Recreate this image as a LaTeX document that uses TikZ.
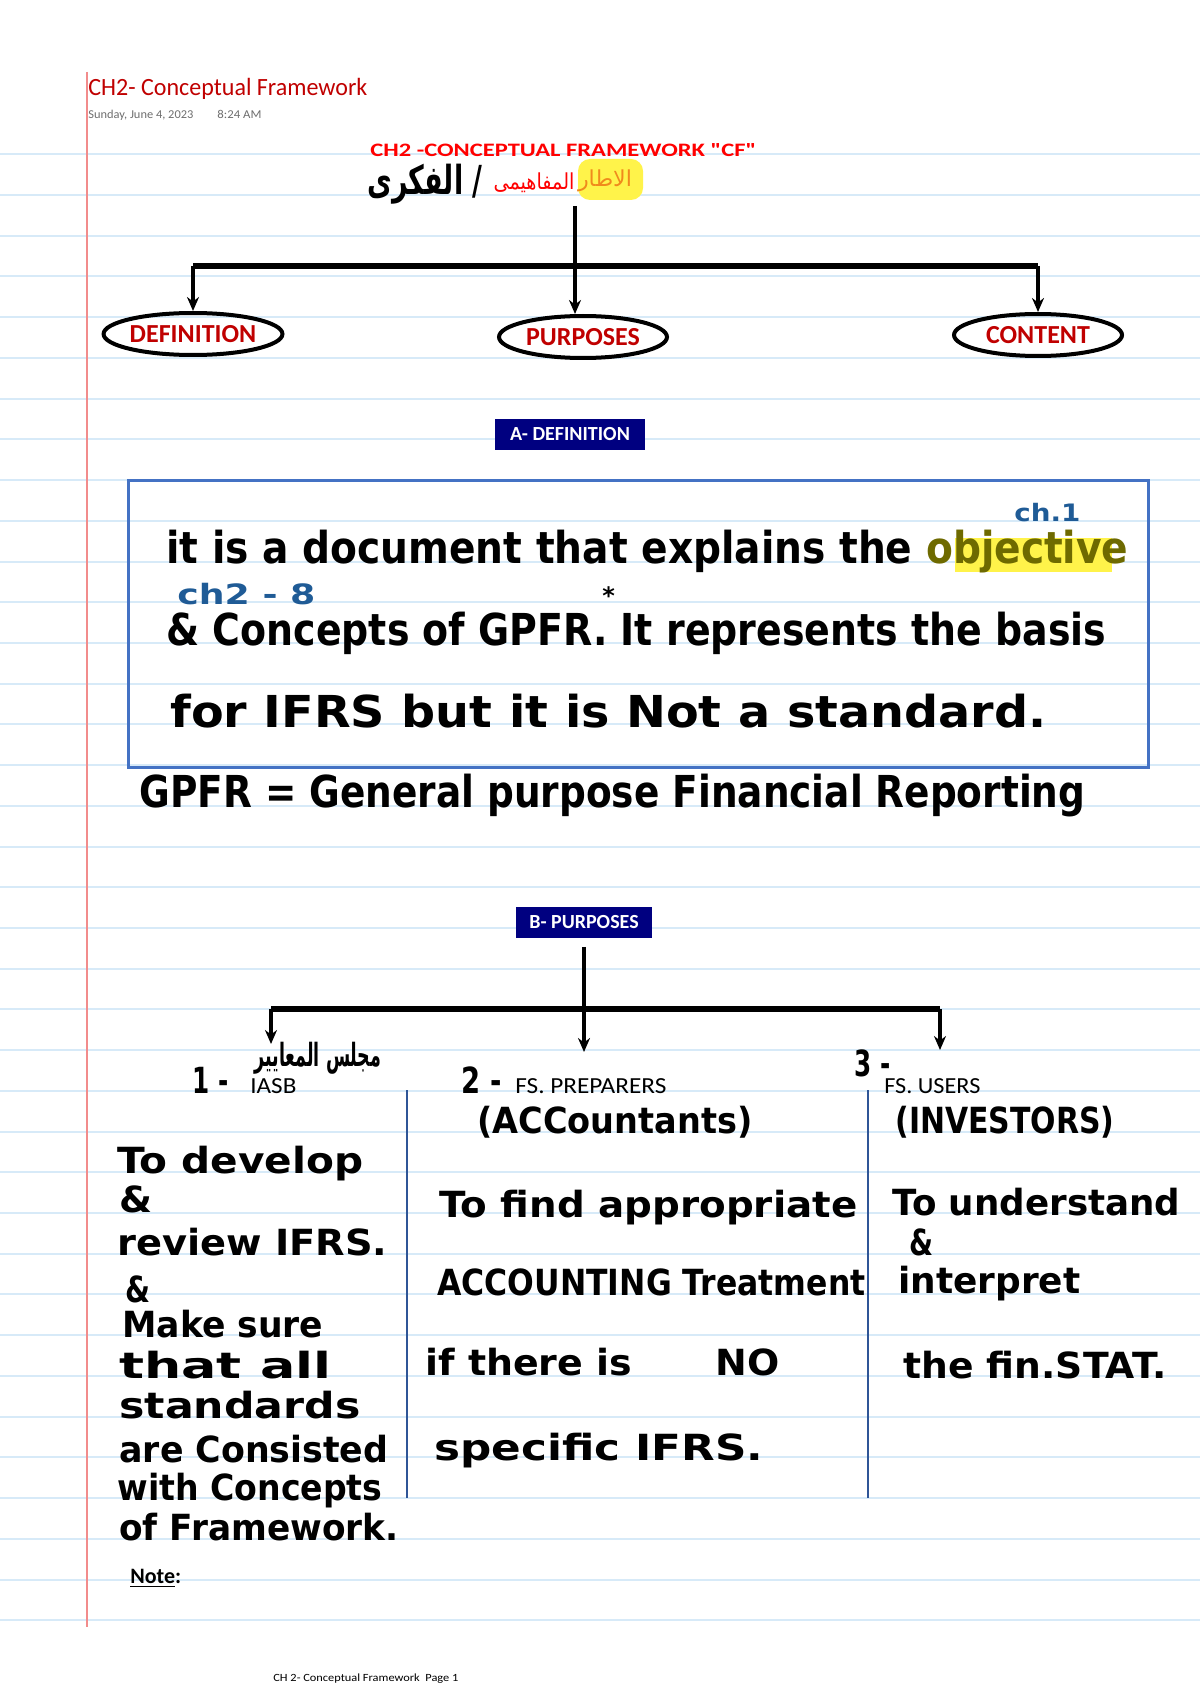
\documentclass[tikz,border=0pt]{standalone}
\usepackage{fontspec}
\setmainfont{Carlito}
\newfontfamily\straightfont{Carlito}[Ligatures=TeXOff]
\newfontfamily\hand{DejaVu Sans}
\newfontfamily\arabicfont[Script=Arabic]{DejaVu Sans}
\TeXXeTstate=1
\usepackage{graphicx}
\usetikzlibrary{arrows.meta,positioning,calc,shapes.geometric}
\definecolor{ruleblue}{HTML}{D7EAF8}
\definecolor{marginred}{HTML}{F28C8C}
\definecolor{titlered}{HTML}{C00000}
\definecolor{brightred}{HTML}{FF0000}
\definecolor{navybox}{HTML}{000080}
\definecolor{boxblue}{HTML}{4472C4}
\definecolor{colblue}{HTML}{2F5597}
\definecolor{inkblue}{HTML}{1F5B96}
\definecolor{hlyellow}{HTML}{FFF34A}
\definecolor{hlolive}{HTML}{6E6A00}
\definecolor{arorange}{HTML}{F08A1C}
\definecolor{dategray}{HTML}{6E6E6E}
\newcommand{\squeeze}[2]{\resizebox{#1}{\height}{#2}}

\begin{document}
\begin{tikzpicture}[x=0.5pt,y=-0.5pt,
  hw/.style={anchor=base west,inner sep=0pt,font=\hand\bfseries\fontsize{18}{20}\selectfont},
  printed/.style={anchor=base west,inner sep=0pt},
  ellbox/.style={ellipse,draw=black,line width=2pt,minimum width=84pt,minimum height=21pt,
    inner sep=0pt,text=titlered,font=\bfseries\fontsize{13}{15}\selectfont},
  secbox/.style={fill=navybox,text=white,inner sep=0pt,minimum height=15.5pt,
    font=\bfseries\fontsize{10}{12}\selectfont},
  stemline/.style={line width=1.8pt,-{Stealth[length=7pt,width=6pt]}},
  barline/.style={line width=2.6pt}]
\useasboundingbox (0,0) rectangle (1200,1701);
\fill[white] (0,0) rectangle (1200,1701);
% page lines
\foreach \k in {0,...,36}{
  \draw[ruleblue,line width=1pt] (0,{154.3+40.72*\k}) -- (1200,{154.3+40.72*\k});
}
\draw[marginred,line width=0.8pt] (87,72) -- (87,1627);

% header
\node[printed,text=titlered,font=\fontsize{12.4}{14}\selectfont] (pagetitle) at (88,96)
  {\squeeze{139.5pt}{CH2- Conceptual Framework}};
\node[printed,text=dategray,font=\fontsize{6}{7}\selectfont] (pagedate) at (88,119)
  {\squeeze{52.5pt}{Sunday, June 4, 2023}};
\node[printed,text=dategray,font=\fontsize{6}{7}\selectfont] (pagetime) at (217,119)
  {\squeeze{22pt}{8:24 AM}};

% title and arabic
\node[printed,text=brightred,font=\straightfont\bfseries\fontsize{9.5}{11}\selectfont] (cftitle) at (370,157)
  {\squeeze{193pt}{CH2 -CONCEPTUAL FRAMEWORK "CF"}};
\fill[hlyellow,rounded corners=6pt] (578,159) rectangle (643,200);
\node[inner sep=0pt,text=arorange,font=\arabicfont\fontsize{11}{13}\selectfont] (arframe) at (605,181)
  {\squeeze{27pt}{\beginR الاطار\endR}};
\node[inner sep=0pt,text=brightred,font=\arabicfont\fontsize{11}{13}\selectfont] (arconcept) at (534,183)
  {\squeeze{40.5pt}{\beginR المفاهيمى\endR}};
\node[inner sep=0pt,font=\arabicfont\bfseries\fontsize{20}{22}\selectfont] (arhand) at (425,184)
  {\squeeze{57.5pt}{\beginR / الفكرى\endR}};

% first tree
\coordinate (cfstem) at (575,206);
\coordinate (topbar) at (575,266);
\node[ellbox] (defn) at (193,334) {DEFINITION};
\node[ellbox] (purp) at (583,337) {PURPOSES};
\node[ellbox] (cont) at (1038,335) {CONTENT};
\draw[stemline] (cfstem) -- (cfstem |- purp.north);
\draw[barline] (defn.north |- topbar) -- (cont.north |- topbar);
\draw[stemline] (defn.north |- topbar) -- (defn.north);
\draw[stemline] (cont.north |- topbar) -- (cont.north);

% A - definition
\node[secbox,minimum width=75pt] (secA) at (570,434) {A- DEFINITION};
\draw[boxblue,line width=1.5pt] (128,480) rectangle (1148,767);
\fill[hlyellow] (955,538) rectangle (1112,572);
\node[hw,text=inkblue,font=\hand\bfseries\fontsize{12}{14}\selectfont] (chone) at (1014,521)
  {\squeeze{33pt}{ch.1}};
\node[hw,font=\hand\bfseries\fontsize{22}{24}\selectfont] (def1) at (166,563)
  {\squeeze{481pt}{it is a document that explains the \textcolor{hlolive}{objective}}};
\node[hw,text=inkblue,font=\hand\bfseries\fontsize{14}{16}\selectfont] (chtwo) at (177,604)
  {\squeeze{69pt}{ch2 - 8}};
\node[hw,font=\hand\bfseries\fontsize{12}{14}\selectfont] (star) at (602,604) {*};
\node[hw,font=\hand\bfseries\fontsize{22}{24}\selectfont] (def2) at (166,645)
  {\squeeze{470pt}{\& Concepts of GPFR. It represents the basis}};
\node[hw,font=\hand\bfseries\fontsize{22}{24}\selectfont] (def3) at (170,727)
  {\squeeze{438pt}{for IFRS but it is Not a standard.}};
\node[hw,font=\hand\bfseries\fontsize{22}{24}\selectfont] (gpfr) at (139,807)
  {\squeeze{473pt}{GPFR = General purpose Financial Reporting}};

% B - purposes
\node[secbox,minimum width=68pt] (secB) at (584,922) {B- PURPOSES};
\coordinate (midbar) at (584,1009);
\coordinate (tipA) at (271,1044);
\coordinate (tipB) at (584,1052);
\coordinate (tipC) at (940,1050);
\draw[stemline,shorten <=4.5pt] (secB.south) -- (tipB);
\draw[barline] (tipA |- midbar) -- (tipC |- midbar);
\draw[stemline] (tipA |- midbar) -- (tipA);
\draw[stemline] (tipC |- midbar) -- (tipC);

\node[inner sep=0pt,font=\arabicfont\bfseries\fontsize{16}{18}\selectfont] (iasbar) at (318,1058)
  {\squeeze{63.5pt}{\beginR مجلس المعايير\endR}};
\node[hw] (numA) at (192,1093) {\squeeze{18pt}{1 -}};
\node[hw] (numB) at (461,1093) {\squeeze{20pt}{2 -}};
\node[hw] (numC) at (854,1076) {\squeeze{18pt}{3 -}};
\node[printed,font=\fontsize{11.5}{13}\selectfont] (iasb) at (250,1093) {\squeeze{23pt}{IASB}};
\node[printed,font=\fontsize{11.5}{13}\selectfont] (prep) at (515,1093) {\squeeze{75.5pt}{FS. PREPARERS}};
\node[printed,font=\fontsize{11.5}{13}\selectfont] (users) at (884,1093) {\squeeze{48pt}{FS. USERS}};
\node[hw] (acct) at (477,1133) {\squeeze{137.5pt}{(ACCountants)}};
\node[hw] (invest) at (895,1133) {\squeeze{109.5pt}{(INVESTORS)}};

\draw[colblue,line width=0.6pt] (407,1090) -- (407,1498);
\draw[colblue,line width=0.6pt] (868,1090) -- (868,1498);

% columns
\foreach \x/\y/\w/\t [count=\i] in {117/1173/123/To develop, 119/1212/16.5/\&,
    117/1255/135/review IFRS., 125/1302/12.5/\&, 122/1337/100.5/Make sure,
    119/1378/106/that all, 119/1418/120.5/standards, 119/1462/134.5/are Consisted,
    117/1500/132.5/with Concepts, 119/1540/139.5/of Framework.}{
  \node[hw] (colA-\i) at (\x,\y) {\squeeze{\w pt}{\t}};
}
\foreach \x/\y/\w/\t [count=\i] in {439/1217/209/To find appropriate,
    437/1295/214/ACCOUNTING Treatment, 425/1375/177/if there is \hspace{1.5em} NO,
    434/1460/164.5/specific IFRS.}{
  \node[hw] (colB-\i) at (\x,\y) {\squeeze{\w pt}{\t}};
}
\foreach \x/\y/\w/\t [count=\i] in {892/1215/144/To understand, 909/1255/12/\&,
    898/1293/91/interpret, 903/1378/131.5/the fin.STAT.}{
  \node[hw] (colC-\i) at (\x,\y) {\squeeze{\w pt}{\t}};
}

\node[printed,font=\bfseries\fontsize{11}{13}\selectfont] (note) at (130,1583) {\underline{Note}:};
\node[printed,font=\fontsize{5.5}{7}\selectfont] (footer) at (273,1681)
  {\squeeze{92.5pt}{CH 2- Conceptual Framework\ \ Page 1}};
\end{tikzpicture}
\end{document}
